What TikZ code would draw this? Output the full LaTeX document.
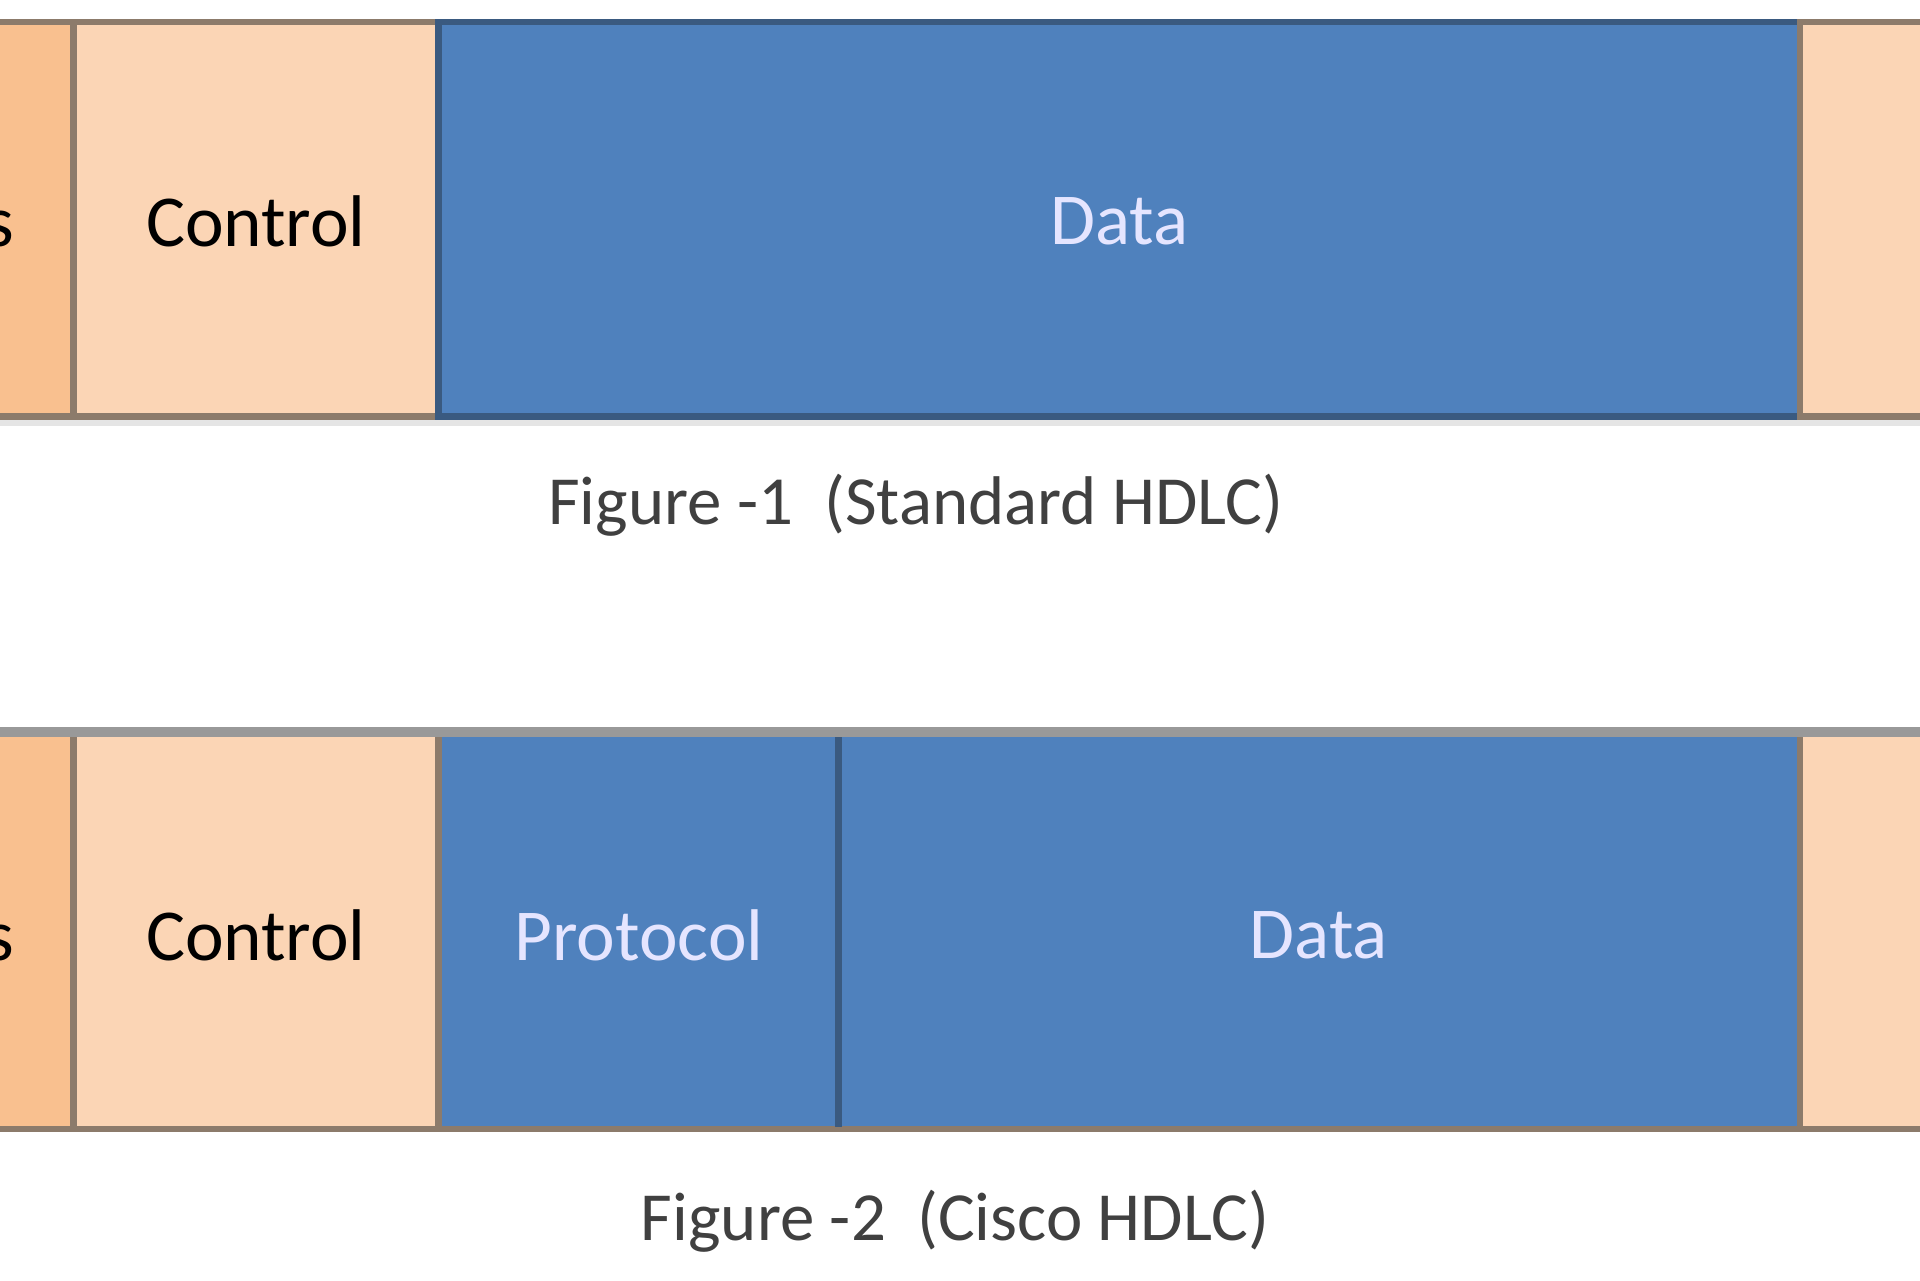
\documentclass[tikz,border=0pt]{standalone}
\usepackage{fontspec}
\setmainfont{Carlito}
\definecolor{peach}{HTML}{FBD5B5}
\definecolor{orng}{HTML}{F9C08F}
\definecolor{blu}{HTML}{4F81BD}
\definecolor{brd}{HTML}{8C7B6B}
\definecolor{dblu}{HTML}{3A5A80}
\tikzset{fld/.style={draw=brd,line width=1.6pt},
lbl/.style={font=\fontsize{17}{20}\selectfont},
figcap/.style={font=\fontsize{16}{19}\selectfont,text=black!75}}
\begin{document}
\begin{tikzpicture}[x=0.01cm,y=-0.01cm]
\useasboundingbox (0,0) rectangle (1568,1046);
\clip (0,0) rectangle (1568,1046);
\fill[white] (0,0) rectangle (1568,1046);
% row 1
\fill[black!10] (-10,340) rectangle (1578,348);
\filldraw[fld,fill=orng] (-20,18) rectangle (60,340);
\filldraw[fld,fill=peach] (60,18) rectangle (358,340);
\filldraw[fld,fill=blu,draw=dblu] (358,18) rectangle (1470,340);
\filldraw[fld,fill=peach] (1470,18) rectangle (1600,340);
\node[lbl,anchor=east] (a1) at (24,181) {Address};
\node[lbl] (c1) at (209,181) {Control};
\node[lbl,text=white!90!blue] (d1) at (914,181) {Data};
\node[figcap] (f1) at (748,413) {Figure -1\ \ (Standard HDLC)};
% row 2
\filldraw[fld,fill=orng] (-20,598) rectangle (60,922);
\filldraw[fld,fill=peach] (60,598) rectangle (358,922);
\filldraw[fld,fill=blu] (358,598) rectangle (685,922);
\filldraw[fld,fill=blu] (685,598) rectangle (1470,922);
\draw[dblu,line width=1.6pt] (685,600) -- (685,920);
\filldraw[fld,fill=peach] (1470,598) rectangle (1600,922);
\draw[black!40,line width=2.4pt] (0,598) -- (1568,598);
\node[lbl,anchor=east] (a2) at (24,764) {Address};
\node[lbl] (c2) at (209,764) {Control};
\node[lbl,text=white!90!blue] (p2) at (522,764) {Protocol};
\node[lbl,text=white!90!blue] (d2) at (1077,764) {Data};
\node[figcap] (f2) at (780,997) {Figure -2\ \ (Cisco HDLC)};
\end{tikzpicture}
\end{document}
